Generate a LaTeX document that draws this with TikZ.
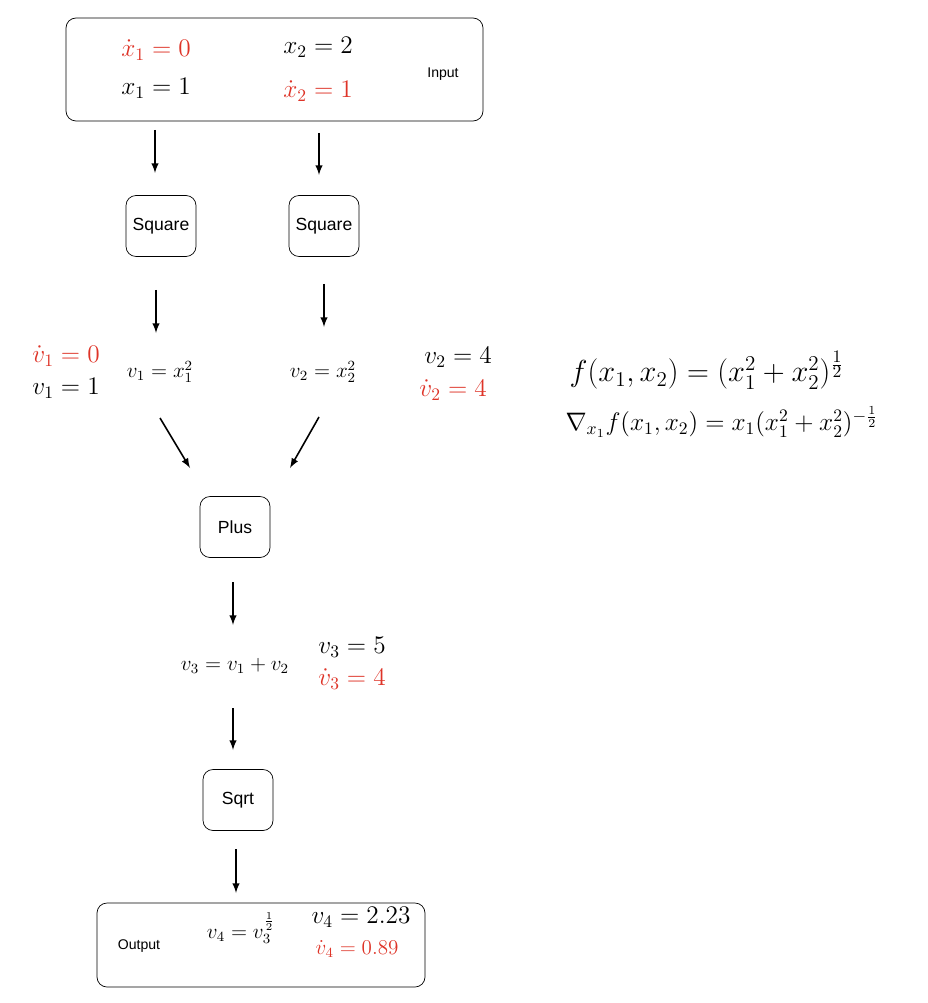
\documentclass[tikz,border=0pt]{standalone}
\usepackage{amsmath}
\usepackage{fontspec}
\setsansfont{Liberation Sans}
\usepackage{tikz}
\usetikzlibrary{positioning}
\definecolor{dotred}{RGB}{222,52,40}
\begin{document}
\begin{tikzpicture}
    [
    x=0.02cm,y=-0.02cm,
    op/.style={draw,rounded corners=2mm,minimum width=1.4cm,minimum height=1.22cm,font=\sffamily\normalsize},
    frame/.style={draw,rounded corners=2mm},
    big/.style={font=\Large},
    tan/.style={font=\Large,text=dotred},
    small/.style={font=\large},
    flow/.style={-latex,line width=0.9pt},
    ]
    \useasboundingbox (0,0) rectangle (927,1003);

    % input
    \draw [frame] (66,18) rectangle (483,121);
    \node (dx1) at (156,50) [tan] {$\dot{x}_1=0$};
    \node (x1) at (156,88) [big] {$x_1=1$};
    \node (x2) at (318,47) [big] {$x_2=2$};
    \node (dx2) at (318,91) [tan] {$\dot{x}_2=1$};
    \node (in) at (443,74) [font=\sffamily\footnotesize] {Input};

    % squares
    \node (sq1) at (161,226) [op] {Square};
    \node (sq2) at (324,226) [op] {Square};
    \coordinate (a1) at (155,130); \coordinate (b1) at (155,173);
    \coordinate (a2) at (319,133); \coordinate (b2) at (319,175);
    \draw [flow] (a1) to (b1);
    \draw [flow] (a2) to (b2);

    \coordinate (a3) at (156,290); \coordinate (b3) at (156,333);
    \coordinate (a4) at (324,284); \coordinate (b4) at (324,327);
    \draw [flow] (a3) to (b3);
    \draw [flow] (a4) to (b4);

    \node (v1) at (160,372) [small] {$v_1=x_1^2$};
    \node (v2) at (323,372) [small] {$v_2=x_2^2$};
    \node (dv1) at (66,356) [tan] {$\dot{v}_1=0$};
    \node (v1n) at (66,388) [big] {$v_1=1$};
    \node (v2n) at (458,357) [big] {$v_2=4$};
    \node (dv2) at (453,390) [tan] {$\dot{v}_2=4$};

    \coordinate (a5) at (160,418); \coordinate (b5) at (190,468);
    \coordinate (a6) at (319,417); \coordinate (b6) at (290,468);
    \draw [flow] (a5) to (b5);
    \draw [flow] (a6) to (b6);

    % plus
    \node (plus) at (235,527) [op] {Plus};
    \coordinate (a7) at (233,582); \coordinate (b7) at (233,625);
    \draw [flow] (a7) to (b7);
    \node (v3) at (235,666) [small] {$v_3=v_1+v_2$};
    \node (v3n) at (352,647) [big] {$v_3=5$};
    \node (dv3) at (352,679) [tan] {$\dot{v}_3=4$};

    % sqrt
    \coordinate (a8) at (233,708); \coordinate (b8) at (233,750);
    \draw [flow] (a8) to (b8);
    \node (sqrt) at (238,800) [op] {Sqrt};
    \coordinate (a9) at (236,849); \coordinate (b9) at (236,893);
    \draw [flow] (a9) to (b9);

    % output
    \draw [frame] (97,903) rectangle (425,987);
    \node (out) at (139,946) [font=\sffamily\footnotesize] {Output};
    \node (v4) at (241,928) [small] {$v_4=v_3^{\frac{1}{2}}$};
    \node (v4n) at (361,917) [big] {$v_4=2.23$};
    \node (dv4) at (357,949) [font=\large,text=dotred] {$\dot{v}_4=0.89$};

    % formulas
    \node (f) at (707,370) [font=\LARGE] {$f(x_1,x_2)=(x_1^2+x_2^2)^{\frac{1}{2}}$};
    \node (grad) at (722,422) [font=\Large] {$\nabla_{x_1}f(x_1,x_2)=x_1(x_1^2+x_2^2)^{-\frac{1}{2}}$};
\end{tikzpicture}
\end{document}
